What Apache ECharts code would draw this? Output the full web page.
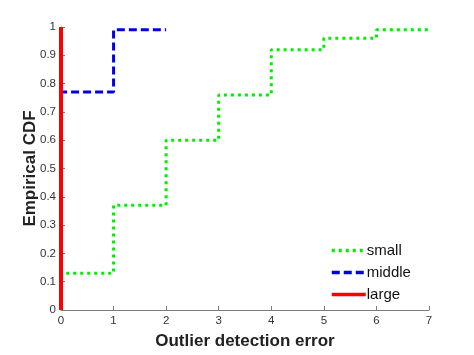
<!DOCTYPE html>
<html><head><meta charset="utf-8">
<script src="https://cdn.jsdelivr.net/npm/echarts@6/dist/echarts.min.js"></script>
<style>html,body{margin:0;padding:0;background:#fff}#c{width:474px;height:355px}</style>
</head><body><div id="c"></div>
<script>
const xTicks = [0,1,2,3,4,5,6,7];
const smallX = [0, 0, 1, 2, 3, 4, 5, 6, 7];
const smallY = [0, 0.13, 0.37, 0.60, 0.76, 0.92, 0.96, 0.99, 0.99];
const middleX = [0, 0, 1, 2];
const middleY = [0, 0.77, 0.99, 0.99];
const largeX = [0, 0];
const largeY = [0, 1];
const names = ['small','middle','large'];

const pairs = (xs, ys) => xs.map((x,i)=>[x, ys[i]]);
const chart = echarts.init(document.getElementById('c'));
const tickColor = '#7a7a7a';
chart.setOption({
  animation: false,
  grid: {left: 61, right: 45, top: 27, bottom: 41},
  legend: {
    orient: 'vertical', left: 325, top: 238,
    itemWidth: 34, itemHeight: 12, itemGap: 7,
    itemStyle: {opacity: 0, borderWidth: 0},
    lineStyle: {width: 3.5},
    textStyle: {fontFamily: 'Liberation Sans, Arial', fontSize: 15, color: '#111', padding: [0,0,0,-4]},
    data: names
  },
  xAxis: {
    type: 'value', min: 0, max: 7, interval: 1,
    name: 'Outlier detection error', nameLocation: 'middle', nameGap: 23,
    nameTextStyle: {fontFamily: 'Liberation Sans, Arial', fontWeight: 'bold', fontSize: 17, color: '#222'},
    axisLine: {lineStyle: {color: tickColor, width: 1}},
    axisTick: {inside: true, length: 4, lineStyle: {color: tickColor}},
    axisLabel: {fontFamily: 'Liberation Sans, Arial', fontSize: 11.5, color: '#333', margin: 5},
    splitLine: {show: false}
  },
  yAxis: {
    type: 'value', min: 0, max: 1, interval: 0.1,
    name: 'Empirical CDF', nameLocation: 'middle', nameGap: 22, nameMoveOverlap: false,
    nameTextStyle: {fontFamily: 'Liberation Sans, Arial', fontWeight: 'bold', fontSize: 17, color: '#222'},
    axisLine: {show: true, lineStyle: {color: tickColor, width: 1}},
    axisTick: {show: true, inside: true, length: 4, lineStyle: {color: tickColor}},
    axisLabel: {fontFamily: 'Liberation Sans, Arial', fontSize: 11.5, color: '#333', margin: 5,
      formatter: v => String(Math.round(v*10)/10)},
    splitLine: {show: false}
  },
  series: [
    {name: names[0], type: 'line', step: 'end', symbol: 'none', clip: false,
     data: pairs(smallX, smallY),
     itemStyle: {color: '#00ee00'},
     lineStyle: {color: '#00ee00', width: 3, type: [3,4]}},
    {name: names[1], type: 'line', step: 'end', symbol: 'none', clip: false,
     data: pairs(middleX, middleY),
     itemStyle: {color: '#0000e0'},
     lineStyle: {color: '#0000e0', width: 3, type: [8,4]}},
    {name: names[2], type: 'line', symbol: 'none', clip: false,
     data: pairs(largeX, largeY),
     itemStyle: {color: '#ff0000'},
     lineStyle: {color: '#ff0000', width: 4, type: 'solid'}}
  ]
});
</script></body></html>
